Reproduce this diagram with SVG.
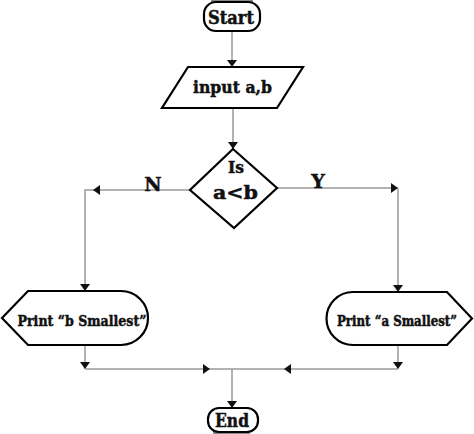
<svg xmlns="http://www.w3.org/2000/svg" width="474" height="434" viewBox="0 0 474 434">
<defs>
<style>
.shape{fill:#fff;stroke:#000;stroke-width:2.2;stroke-linejoin:miter}
.conn{fill:none;stroke:#999;stroke-width:1.5}
.shadow{fill:#8a8a8a}
text{font-family:"DejaVu Serif","Liberation Serif",serif;font-weight:bold;fill:#111;stroke:#111;stroke-width:0.5;text-anchor:middle}
</style>
<marker id="ah" viewBox="0 0 7 10" refX="7" refY="5" markerWidth="7" markerHeight="10" markerUnits="userSpaceOnUse" orient="auto">
<path d="M0,0 L7,5 L0,10 Z" fill="#111"/>
</marker>
</defs>
<rect width="474" height="434" fill="#fff"/>
<g id="connectors">
<path class="conn" d="M232,32 V67" marker-end="url(#ah)"/>
<path class="conn" d="M233,108 V149" marker-end="url(#ah)"/>
<path class="conn" d="M190,190 H93" marker-end="url(#ah)"/>
<path class="conn" d="M93,190 H85 V291" marker-end="url(#ah)"/>
<path class="conn" d="M277,188 H398" marker-end="url(#ah)"/>
<path class="conn" d="M398,188 V292" marker-end="url(#ah)"/>
<path class="conn" d="M85,345 V369" marker-end="url(#ah)"/>
<path class="conn" d="M398,346 V369" marker-end="url(#ah)"/>
<path class="conn" d="M85,369 H210" marker-end="url(#ah)"/>
<path class="conn" d="M210,369 H232"/>
<path class="conn" d="M398,369 H284" marker-end="url(#ah)"/>
<path class="conn" d="M284,369 H232"/>
<path class="conn" d="M232,369 V408" marker-end="url(#ah)"/>
<text x="153" y="191" font-size="19">N</text>
<text x="318" y="188" font-size="19">Y</text>
</g>
<g id="start">
<rect class="shadow" x="211" y="-3" width="42" height="7" rx="3"/>
<rect class="shape" x="204" y="2" width="56" height="29" rx="12"/>
<text x="231" y="24" font-size="18.5" textLength="46" lengthAdjust="spacingAndGlyphs">Start</text>
</g>
<g id="input">
<polygon class="shape" points="188,67 303,67 277,108 162,108"/>
<text x="232.5" y="93" font-size="17" textLength="79" lengthAdjust="spacingAndGlyphs">input a,b</text>
</g>
<g id="decision">
<polygon class="shape" points="233,149 277,188 234,228 190,190"/>
<text x="236" y="173" font-size="17.5" textLength="16" lengthAdjust="spacingAndGlyphs">Is</text>
<text x="235.5" y="199" font-size="18.5" textLength="45" lengthAdjust="spacingAndGlyphs">a&lt;b</text>
</g>
<g id="print-b">
<path class="shape" d="M2,318 L28,291 L121,291 A27,27 0 0 1 121,345 L28,345 Z"/>
<text x="82" y="326" font-size="15.5" textLength="129" lengthAdjust="spacingAndGlyphs">Print “b Smallest”</text>
</g>
<g id="print-a">
<path class="shape" d="M353,292 L447,292 L472,318.5 L447,345 L353,345 A26.5,26.5 0 0 1 353,292 Z"/>
<text x="397" y="325.5" font-size="14" textLength="120" lengthAdjust="spacingAndGlyphs">Print “a Smallest”</text>
</g>
<g id="end">
<rect class="shadow" x="213" y="428" width="37" height="9" rx="3"/>
<rect class="shape" x="208" y="408" width="50" height="24" rx="11"/>
<text x="232" y="427" font-size="18.5" textLength="34" lengthAdjust="spacingAndGlyphs">End</text>
</g>
</svg>
